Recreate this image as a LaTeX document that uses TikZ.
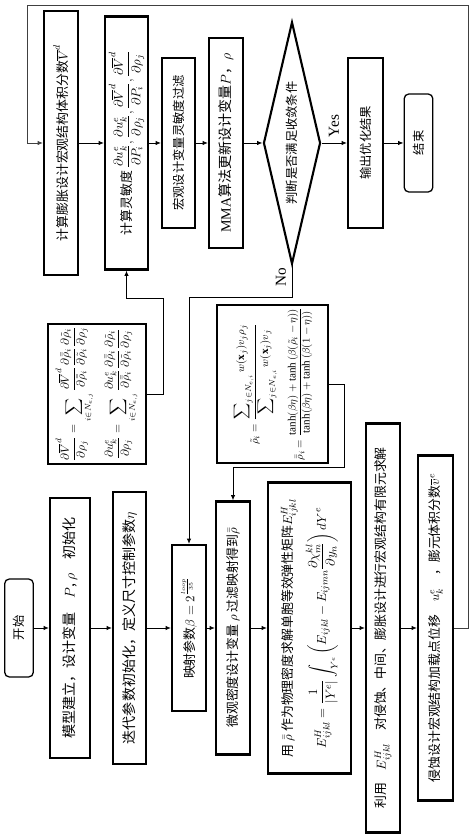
\documentclass[tikz,border=0pt]{standalone}
\usepackage{amsmath,amssymb}
\usepackage{fontspec}
\setmainfont{Liberation Serif}
\newfontfamily\cjk{Noto Sans CJK SC}
\usepackage{tikz}
\usetikzlibrary{arrows.meta,shapes.geometric,calc}
\tikzset{
  flowbox/.style={draw=black,line width=1.8pt,minimum height=1.02cm,
                  align=center,inner sep=2pt,font=\cjk\fontsize{11}{13}\selectfont},
  termbox/.style={draw=black,line width=1.1pt,rounded corners=4pt,
                  minimum width=2.94cm,minimum height=0.86cm,
                  font=\cjk\fontsize{10.5}{12}\selectfont},
  formbox/.style={draw=black,line width=1.8pt,align=center,inner sep=2pt,
                  font=\fontsize{10}{12}\selectfont},
  decbox/.style={diamond,aspect=4.25,draw=black,line width=1.8pt,inner sep=0pt,
                 minimum width=7.26cm,minimum height=1.71cm,
                 font=\cjk\fontsize{10.5}{12}\selectfont},
  flowarr/.style={-{Latex[length=1.6mm,width=1.3mm]},line width=0.7pt},
  yesno/.style={font=\rmfamily\fontsize{13}{15}\selectfont}
}

\begin{document}
\begin{tikzpicture}[x=0.03cm,y=0.03cm,rotate=90,transform shape]
  \useasboundingbox (0,0) rectangle (838,-474);

  % left column
  \node[termbox] (start) at (210,-19) {开始};
  \node[flowbox,minimum width=7.8cm,minimum height=1.2cm,
        font=\cjk\fontsize{12}{14}\selectfont] (model) at (210,-70)
    {模型建立，设计变量　$P$, $\rho$　初始化};
  \node[flowbox,minimum width=8.16cm,minimum height=0.99cm,
        font=\cjk\fontsize{12}{14}\selectfont] (iter) at (210,-129.5)
    {迭代参数初始化，定义尺寸控制参数$\eta$};
  \node[flowbox,minimum width=4.98cm] (map) at (210,-189)
    {映射参数$\beta=2^{\frac{loop}{35}}$};
  \node[flowbox,minimum width=7.59cm] (micro) at (210,-233)
    {微观密度设计变量 $\rho$ 过滤映射得到$\bar{\bar{\rho}}$};
  \node[flowbox,minimum width=8.73cm,minimum height=2.49cm] (hom) at (210,-309.5)
    {用 $\bar{\bar{\rho}}$ 作为物理密度求解单胞等效弹性矩阵$E^{H}_{ijkl}$\\[6pt]
     $E^{H}_{ijkl}=\dfrac{1}{|Y^{e}|}\displaystyle\int_{Y^{e}}\left(E_{ijkl}-E_{ijmn}\frac{\partial\chi^{kl}_{m}}{\partial y_{n}}\right)dY^{e}$};
  \node[flowbox,minimum width=12.27cm] (fem) at (210,-383)
    {利用　$E^{H}_{ijkl}$　对侵蚀、中间、膨胀设计进行宏观结构有限元求解};
  \node[flowbox,minimum width=10.35cm,minimum height=1.05cm] (erode) at (210,-435.5)
    {侵蚀设计宏观结构加载点位移　$u^{e}_{k}$　，膨元体积分数$\overline{v}^{e}$};

  % right column
  \node[flowbox,minimum width=7.92cm] (vol) at (695,-61)
    {计算膨胀设计宏观结构体积分数$\overline{V}^{d}$};
  \node[flowbox,minimum width=7.59cm,minimum height=1.29cm] (sens) at (695,-126.5)
    {计算灵敏度 $\dfrac{\partial u^{e}_{k}}{\partial P_{i}},\dfrac{\partial u^{e}_{k}}{\partial\rho_{j}},\dfrac{\partial\overline{V}^{d}}{\partial P_{i}},\dfrac{\partial\overline{V}^{d}}{\partial\rho_{j}}$};
  \node[flowbox,minimum width=5.1cm,minimum height=0.99cm,
        font=\cjk\fontsize{10.5}{12}\selectfont] (sfilt) at (695,-178.5)
    {宏观设计变量灵敏度过滤};
  \node[flowbox,minimum width=6.3cm,font=\cjk\fontsize{12}{14}\selectfont] (mma) at (695,-226)
    {{\rmfamily MMA}算法更新设计变量$P$，$\rho$};
  \node[decbox] (conv) at (695,-292) {判断是否满足收敛条件};
  \node[flowbox,minimum width=5.1cm,minimum height=1.05cm,
        font=\cjk\fontsize{10.5}{12}\selectfont] (out) at (695,-365.5)
    {输出优化结果};
  \node[termbox] (finish) at (695,-418.5) {结束};

  % formula boxes
  \node[formbox,minimum width=4.14cm,minimum height=2.94cm] (sensf) at (444,-97)
    {$\dfrac{\partial\overline{V}^{d}}{\partial\rho_{j}}=\displaystyle\sum_{i\in N_{e,j}}\frac{\partial\overline{V}^{d}}{\partial\bar{\bar{\rho}}_{i}}\frac{\partial\bar{\bar{\rho}}_{i}}{\partial\tilde{\rho}_{i}}\frac{\partial\tilde{\rho}_{i}}{\partial\rho_{j}}$\\[8pt]
     $\dfrac{\partial u^{e}_{k}}{\partial\rho_{j}}=\displaystyle\sum_{i\in N_{e,j}}\frac{\partial u^{e}_{k}}{\partial\bar{\bar{\rho}}_{i}}\frac{\partial\bar{\bar{\rho}}_{i}}{\partial\tilde{\rho}_{i}}\frac{\partial\tilde{\rho}_{i}}{\partial\rho_{j}}$};
  \node[formbox,minimum width=4.44cm,minimum height=3.33cm,
        font=\fontsize{9.5}{11}\selectfont] (filtf) at (454,-272.5)
    {$\tilde{\rho}_{i}=\dfrac{\displaystyle\sum\nolimits_{j\in N_{e,i}}w(\mathbf{x}_{j})v_{j}\rho_{j}}{\displaystyle\sum\nolimits_{j\in N_{e,i}}w(\mathbf{x}_{j})v_{j}}$\\[8pt]
     $\bar{\bar{\rho}}_{i}=\dfrac{\tanh(\beta\eta)+\tanh\left(\beta(\tilde{\rho}_{i}-\eta)\right)}{\tanh(\beta\eta)+\tanh\left(\beta(1-\eta)\right)}$};

  \coordinate (loopR) at (833,-468);
  \coordinate (loopL) at (833,-27);

  \draw[flowarr] (start) -- (model); \draw[flowarr] (model) -- (iter);
  \draw[flowarr] (iter) -- (map); \draw[flowarr] (map) -- (micro);
  \draw[flowarr] (micro) -- (hom); \draw[flowarr] (hom) -- (fem);
  \draw[flowarr] (fem) -- (erode);
  \draw[flowarr,draw=black!75] (erode.south) |- (loopR) -- (loopL) -| (vol.north);
  \draw[flowarr] (vol) -- (sens); \draw[flowarr] (sens) -- (sfilt);
  \draw[flowarr] (sfilt) -- (mma); \draw[flowarr] (mma) -- (conv);
  \draw[flowarr] (conv.south) -- (out.north); \draw[flowarr] (out) -- (finish);
  \draw[flowarr] (conv.west) -- ++(-32,0) |- (map.east);
  \draw[flowarr] (sensf.south) -- ++(0,-16) -- ++(96,0) |- (sens.west);
  \draw[flowarr] (filtf.south) -- ++(0,-15) -- ++(-83,0) |- (micro.east);

  \node[yesno] (yeslbl) at (712,-334) {Yes};
  \node[yesno] (nolbl) at (561,-281) {No};
\end{tikzpicture}
\end{document}
